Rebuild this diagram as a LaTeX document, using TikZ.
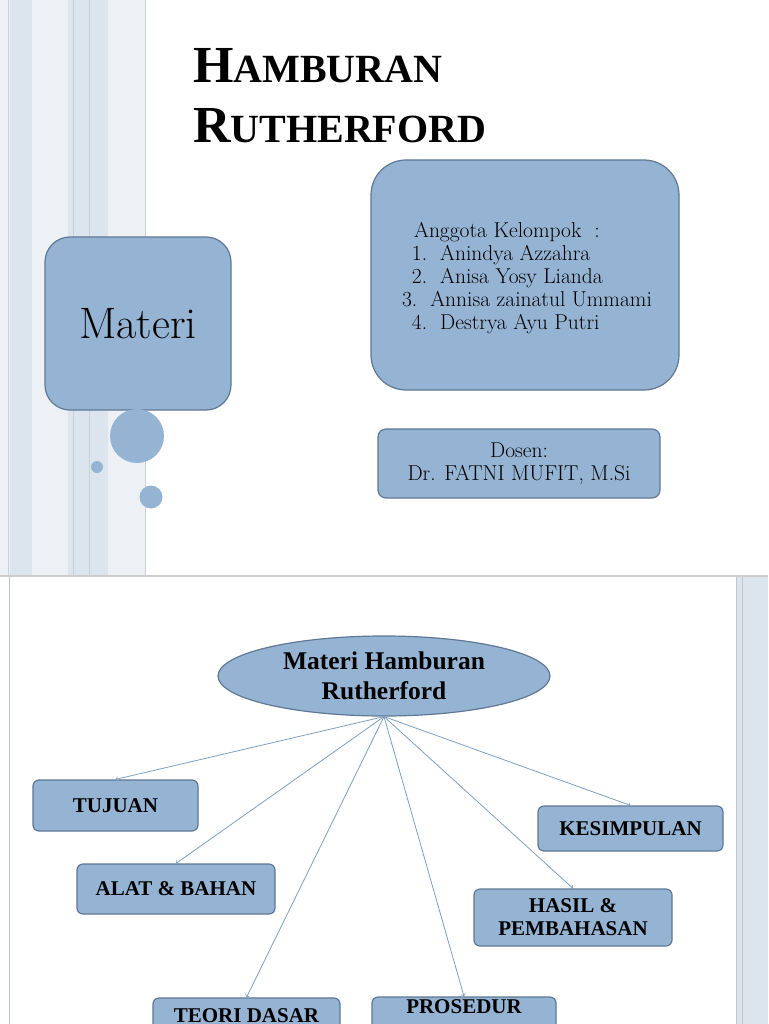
\documentclass[tikz,border=0pt]{standalone}
\usepackage{fontspec}
\newfontfamily\timesfont{Liberation Serif}
\usetikzlibrary{shapes.geometric, arrows}
\definecolor{boxblue}{HTML}{95B3D3}
\definecolor{boxedge}{HTML}{5F7894}
\definecolor{stripe}{HTML}{DCE5EE}
\definecolor{stripelight}{HTML}{EDF1F6}
\definecolor{linkblue}{HTML}{7E9FC2}
\tikzstyle{slidebox} = [rectangle, rounded corners=25pt, draw=boxedge, line width=1.2pt, fill=boxblue, inner sep=0pt]
\tikzstyle{topic} = [rectangle, rounded corners=6pt, draw=boxedge, line width=1.2pt, fill=boxblue, align=center, inner sep=0pt, font=\timesfont\bfseries\fontsize{21}{23}\selectfont]
\tikzstyle{dot} = [circle, fill=boxblue, inner sep=0pt]
\tikzstyle{arrow} = [draw=linkblue, line width=0.8pt, -to]

\begin{document}
\begin{tikzpicture}[x=1pt, y=-1pt]

    \useasboundingbox (0,0) rectangle (768,1024);
    \fill[white] (0,0) rectangle (768,1024);

    % top slide stripes
    \fill[stripelight] (0,0) rectangle (145,575);
    \fill[stripe] (10,0) rectangle (32,575);
    \fill[stripe] (68,0) rectangle (108,575);
    \draw[stripe!80!gray, line width=0.6pt] (8,0) -- (8,575);
    \draw[stripe!80!gray, line width=0.6pt] (73,0) -- (73,575);
    \draw[stripe!80!gray, line width=0.6pt] (89,0) -- (89,575);
    \draw[stripe!80!gray, line width=1pt] (145,0) -- (145,575);
    \fill[gray!40] (0,575) rectangle (768,577);

    % bottom slide stripes
    \fill[stripe] (736,577) rectangle (768,1024);
    \draw[stripe!70!gray, line width=0.6pt] (736,577) -- (736,1024);
    \draw[stripe!70!gray, line width=0.6pt] (742,577) -- (742,1024);
    \draw[stripe!70!gray, line width=0.8pt] (9,577) -- (9,1024);

    % title slide
    \node (title1) [anchor=base west, font=\timesfont\bfseries, inner sep=0pt] at (193,83)
        {{\fontsize{52}{60}\selectfont H}{\fontsize{40}{60}\selectfont AMBURAN}};
    \node (title2) [anchor=base west, font=\timesfont\bfseries, inner sep=0pt] at (193,143)
        {{\fontsize{52}{60}\selectfont R}{\fontsize{40}{60}\selectfont UTHERFORD}};
    \node (materi) [slidebox, minimum width=186pt, minimum height=173pt, font=\fontsize{44}{48}\selectfont] at (138,323.5) {Materi};
    \node (bigdot) [dot, minimum size=54pt] at (137,436) {};
    \node (smalldot) [dot, minimum size=12pt] at (97,467) {};
    \node (middot) [dot, minimum size=23pt] at (151,497) {};
    \node (anggota) [slidebox, rounded corners=35pt, minimum width=308pt, minimum height=230pt] at (525,275) {};
    \node (members) [anchor=north, align=left, font=\fontsize{21.5}{23}\selectfont, inner sep=0pt] at (527,222)
        {\hspace*{12pt}Anggota Kelompok\ \ :\\
         \hphantom{0}1.\ \ Anindya Azzahra\\
         \hphantom{0}2.\ \ Anisa Yosy Lianda\\
         3.\ \ Annisa zainatul Ummami\\
         \hphantom{0}4.\ \ Destrya Ayu Putri};
    \node (dosen) [slidebox, rounded corners=8pt, minimum width=282pt, minimum height=69pt, align=center, font=\fontsize{21.5}{23}\selectfont] at (519,463.5)
        {Dosen:\\Dr. FATNI MUFIT, M.Si};

    % mind map slide
    \node (root) [ellipse, draw=boxedge, line width=1.2pt, fill=boxblue, minimum width=332pt, minimum height=80pt, inner sep=0pt, align=center, font=\timesfont\bfseries\fontsize{25.5}{30}\selectfont] at (384,676) {Materi Hamburan\\Rutherford};
    \node (tujuan) [topic, minimum width=165pt, minimum height=51pt] at (115.5,805.5) {TUJUAN};
    \node (alat) [topic, minimum width=198pt, minimum height=50pt] at (176,889) {ALAT \& BAHAN};
    \node (teori) [topic, minimum width=187pt, minimum height=60pt] at (246.5,1028) {};
    \node (teorilabel) [font=\timesfont\bfseries\fontsize{21}{23}\selectfont, anchor=north, inner sep=0pt] at (246.5,1008) {TEORI DASAR};
    \node (prosedur) [topic, minimum width=184pt, minimum height=60pt] at (464,1027) {};
    \node (prosedurlabel) [font=\timesfont\bfseries\fontsize{21}{23}\selectfont, anchor=north, inner sep=0pt] at (464,999) {PROSEDUR};
    \node (kesimpulan) [topic, minimum width=185pt, minimum height=45pt] at (630.5,828.5) {KESIMPULAN};
    \node (hasil) [topic, minimum width=198pt, minimum height=57pt] at (573,917.5) {HASIL \&\\PEMBAHASAN};

    \draw [arrow] (root.south) -- (tujuan.north);
    \draw [arrow] (root.south) -- (alat.north);
    \draw [arrow] (root.south) -- (teori.north);
    \draw [arrow] (root.south) -- (prosedur.north);
    \draw [arrow] (root.south) -- (kesimpulan.north);
    \draw [arrow] (root.south) -- (hasil.north);

    \end{tikzpicture}
\end{document}
